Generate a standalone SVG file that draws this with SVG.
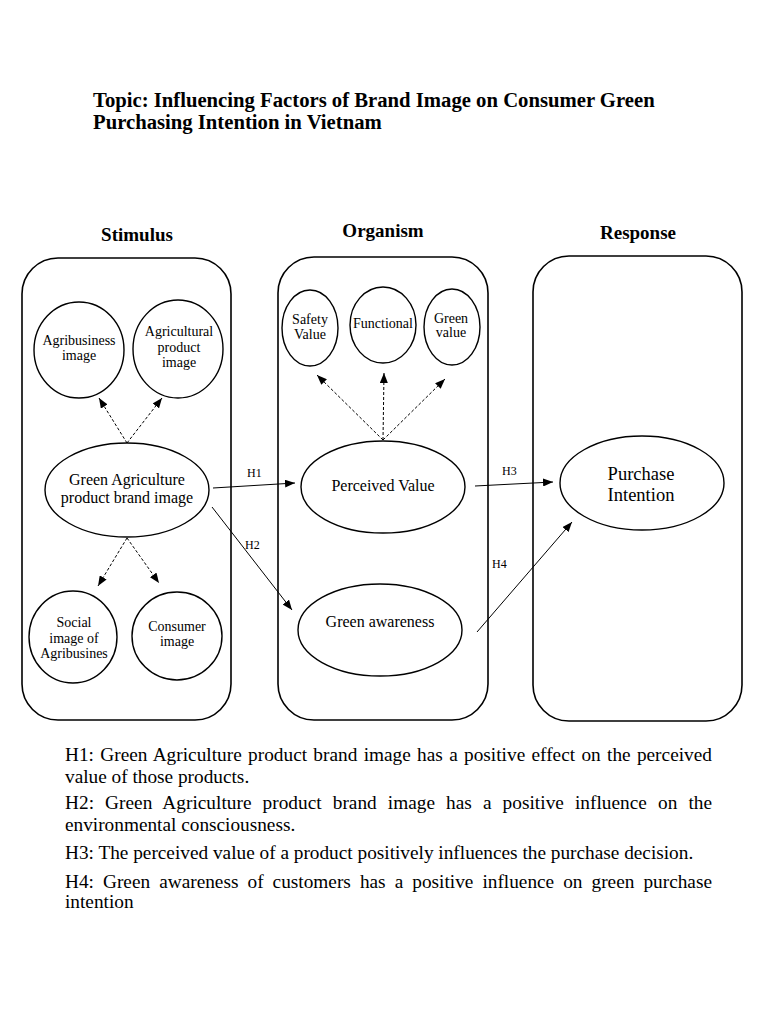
<svg xmlns="http://www.w3.org/2000/svg" width="768" height="1024" viewBox="0 0 768 1024">
<style>
text{font-family:"Liberation Serif","Times New Roman",serif;fill:#000}
.title{font-size:20.7px;font-weight:bold}
.head{font-size:19px;font-weight:bold;text-anchor:middle}
.box{fill:none;stroke:#000;stroke-width:1.6}
.el{fill:#fff;stroke:#000;stroke-width:1.4}
.sm{font-size:14px;text-anchor:middle}
.md{font-size:16px;text-anchor:middle}
.lg{font-size:18.5px;text-anchor:middle}
.lab{font-size:12px}
.note{font-size:19.3px}
.solid{stroke:#000;stroke-width:1;fill:none}
.dash{stroke:#000;stroke-width:1;fill:none;stroke-dasharray:3,2}
</style>
<defs>
<marker id="ah" markerUnits="userSpaceOnUse" markerWidth="10" markerHeight="8" refX="10" refY="4" orient="auto">
<path d="M0,0 L10,4 L0,8 z" fill="#000"/>
</marker>
</defs>
<rect width="768" height="1024" fill="#fff"/>
<g id="title">
<text class="title" x="93" y="107">Topic: Influencing Factors of Brand Image on Consumer Green</text>
<text class="title" x="93" y="129">Purchasing Intention in Vietnam</text>
</g>
<g id="headings">
<text class="head" x="137" y="241">Stimulus</text>
<text class="head" x="383" y="237">Organism</text>
<text class="head" x="638" y="239">Response</text>
</g>
<g id="stimulus-box"><rect class="box" x="22" y="258" width="209" height="462" rx="36"/></g>
<g id="organism-box"><rect class="box" x="278" y="257" width="210" height="463" rx="36"/></g>
<g id="response-box"><rect class="box" x="533" y="256" width="209" height="465" rx="36"/></g>
<g id="connectors">
<line class="dash" x1="127" y1="443" x2="99" y2="398" marker-end="url(#ah)"/>
<line class="dash" x1="127" y1="443" x2="162" y2="398" marker-end="url(#ah)"/>
<line class="dash" x1="127" y1="538" x2="98" y2="586" marker-end="url(#ah)"/>
<line class="dash" x1="127" y1="538" x2="159" y2="583" marker-end="url(#ah)"/>
<line class="dash" x1="383" y1="440" x2="317" y2="375" marker-end="url(#ah)"/>
<line class="dash" x1="383" y1="440" x2="384" y2="373" marker-end="url(#ah)"/>
<line class="dash" x1="383" y1="440" x2="445" y2="379" marker-end="url(#ah)"/>
<line class="solid" x1="213" y1="488" x2="295" y2="483" marker-end="url(#ah)"/>
<line class="solid" x1="212" y1="507" x2="292" y2="610" marker-end="url(#ah)"/>
<line class="solid" x1="475" y1="486" x2="553" y2="482" marker-end="url(#ah)"/>
<line class="solid" x1="477" y1="632" x2="572" y2="522" marker-end="url(#ah)"/>
<text class="lab" x="247" y="477">H1</text>
<text class="lab" x="245" y="549">H2</text>
<text class="lab" x="502" y="475">H3</text>
<text class="lab" x="492" y="568">H4</text>
</g>
<g id="agribusiness-image">
<ellipse class="el" cx="79" cy="350" rx="45" ry="48"/>
<text class="sm" x="79" y="345">Agribusiness</text>
<text class="sm" x="79" y="360">image</text>
</g>
<g id="agricultural-product-image">
<ellipse class="el" cx="178" cy="349" rx="45" ry="49"/>
<text class="sm" x="179" y="336">Agricultural</text>
<text class="sm" x="179" y="352">product</text>
<text class="sm" x="179" y="367">image</text>
</g>
<g id="green-agriculture-brand-image">
<ellipse class="el" cx="127" cy="490" rx="82" ry="47"/>
<text class="md" x="127" y="485">Green Agriculture</text>
<text class="md" x="127" y="503">product brand image</text>
</g>
<g id="social-image">
<ellipse class="el" cx="73" cy="637" rx="44" ry="46"/>
<text class="sm" x="74" y="627">Social</text>
<text class="sm" x="74" y="643">image of</text>
<text class="sm" x="74" y="658">Agribusines</text>
</g>
<g id="consumer-image">
<ellipse class="el" cx="177" cy="636" rx="45" ry="44"/>
<text class="sm" x="177" y="631">Consumer</text>
<text class="sm" x="177" y="646">image</text>
</g>
<g id="safety-value">
<ellipse class="el" cx="310" cy="328" rx="28" ry="38"/>
<text class="sm" x="310" y="324">Safety</text>
<text class="sm" x="310" y="339">Value</text>
</g>
<g id="functional">
<ellipse class="el" cx="383" cy="325" rx="33" ry="38"/>
<text class="sm" x="383" y="328">Functional</text>
</g>
<g id="green-value">
<ellipse class="el" cx="452" cy="327" rx="28" ry="38"/>
<text class="sm" x="451" y="323">Green</text>
<text class="sm" x="451" y="337">value</text>
</g>
<g id="perceived-value">
<ellipse class="el" cx="383" cy="487" rx="82" ry="46"/>
<text class="md" x="383" y="491">Perceived Value</text>
</g>
<g id="green-awareness">
<ellipse class="el" cx="380" cy="630" rx="82" ry="46"/>
<text class="md" x="380" y="627">Green awareness</text>
</g>
<g id="purchase-intention">
<ellipse class="el" cx="642" cy="483" rx="82" ry="47"/>
<text class="lg" x="641" y="480">Purchase</text>
<text class="lg" x="641" y="501">Intention</text>
</g>
<g id="notes">
<text class="note" x="65" y="761" word-spacing="1.4" textLength="647" lengthAdjust="spacing">H1: Green Agriculture product brand image has a positive effect on the perceived</text>
<text class="note" x="65" y="783">value of those products.</text>
<text class="note" x="65" y="809" word-spacing="6.2" textLength="647" lengthAdjust="spacing">H2: Green Agriculture product brand image has a positive influence on the</text>
<text class="note" x="65" y="831">environmental consciousness.</text>
<text class="note" x="65" y="859">H3: The perceived value of a product positively influences the purchase decision.</text>
<text class="note" x="65" y="888" word-spacing="4.2" textLength="647" lengthAdjust="spacing">H4: Green awareness of customers has a positive influence on green purchase</text>
<text class="note" x="65" y="908">intention</text>
</g>
</svg>
